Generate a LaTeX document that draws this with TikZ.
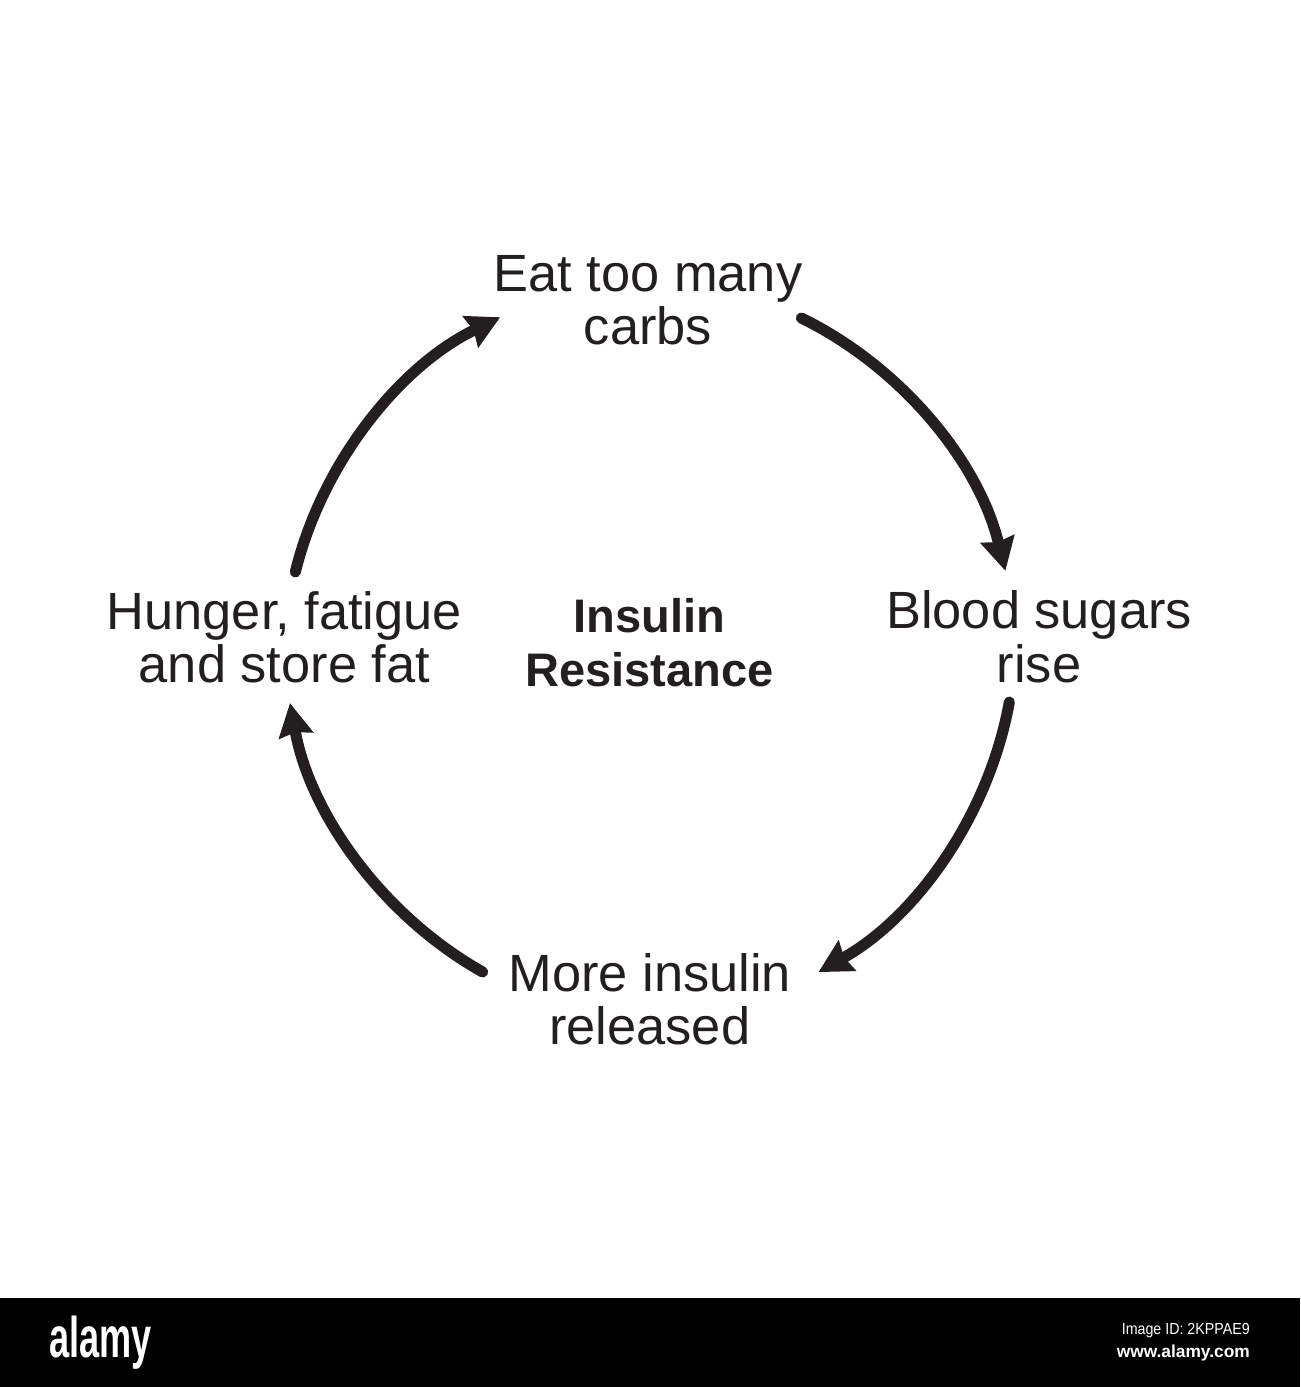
\documentclass[tikz,border=0pt]{standalone}
\usepackage{fontspec}
\setmainfont{Liberation Sans}
\usetikzlibrary{arrows.meta}
\definecolor{inkgray}{HTML}{231F20}
\tikzset{
    stagetext/.style={align=center,font=\fontsize{39.3}{40}\selectfont,text=inkgray,inner sep=0pt},
    cyclearrow/.style={draw=inkgray,line width=8.3pt,line cap=round,
        -{Stealth[length=25pt,width=27pt,inset=3pt,round=false,line width=0pt,fill=inkgray]}},
}
\begin{document}
\begin{tikzpicture}[x=1pt,y=-1pt,every node/.style={inner sep=0pt}]
\useasboundingbox (0,0) rectangle (975,1040.25);
\fill[black] (0,973.5) rectangle (975,1040.25);
\node[stagetext] (carbs) at (486,225.3) {Eat too many\\carbs};
\node[stagetext] (sugars) at (779.3,477.5) {Blood sugars\\rise};
\node[stagetext] (released) at (487.3,749.5) {More insulin\\released};
\node[stagetext] (hunger) at (213.3,478) {Hunger, fatigue\\and store fat};
\node[align=center,font=\fontsize{35.3}{40.5}\selectfont\bfseries,text=inkgray] (insulin) at (487,482) {Insulin\\Resistance};
\coordinate (a1) at (601,238.5);
\coordinate (a2) at (754,428);
\coordinate (b1) at (757,526.5);
\coordinate (b2) at (614,729);
\coordinate (c1) at (362,729);
\coordinate (c2) at (217.5,527.5);
\coordinate (d1) at (221.5,429);
\coordinate (d2) at (375,238);
\draw[cyclearrow] (a1) to[bend left=25,looseness=.88] (a2);
\draw[cyclearrow] (b1) to[bend left=25,looseness=.88] (b2);
\draw[cyclearrow] (c1) to[bend left=25,looseness=.88] (c2);
\draw[cyclearrow] (d1) to[bend left=25,looseness=.88] (d2);
\node[font=\fontsize{43}{45}\selectfont\bfseries,text=white] (brand) at (75.5,1007) {\scalebox{.63}[1]{alamy}};
\node[font=\fontsize{12}{14}\selectfont,text=white,anchor=east] (imageid) at (937.5,998) {\scalebox{.89}[1]{Image ID: 2KPPAE9}};
\node[font=\fontsize{13}{15}\selectfont\bfseries,text=white,anchor=east] (website) at (937.5,1015) {www.alamy.com};
\end{tikzpicture}
\end{document}
